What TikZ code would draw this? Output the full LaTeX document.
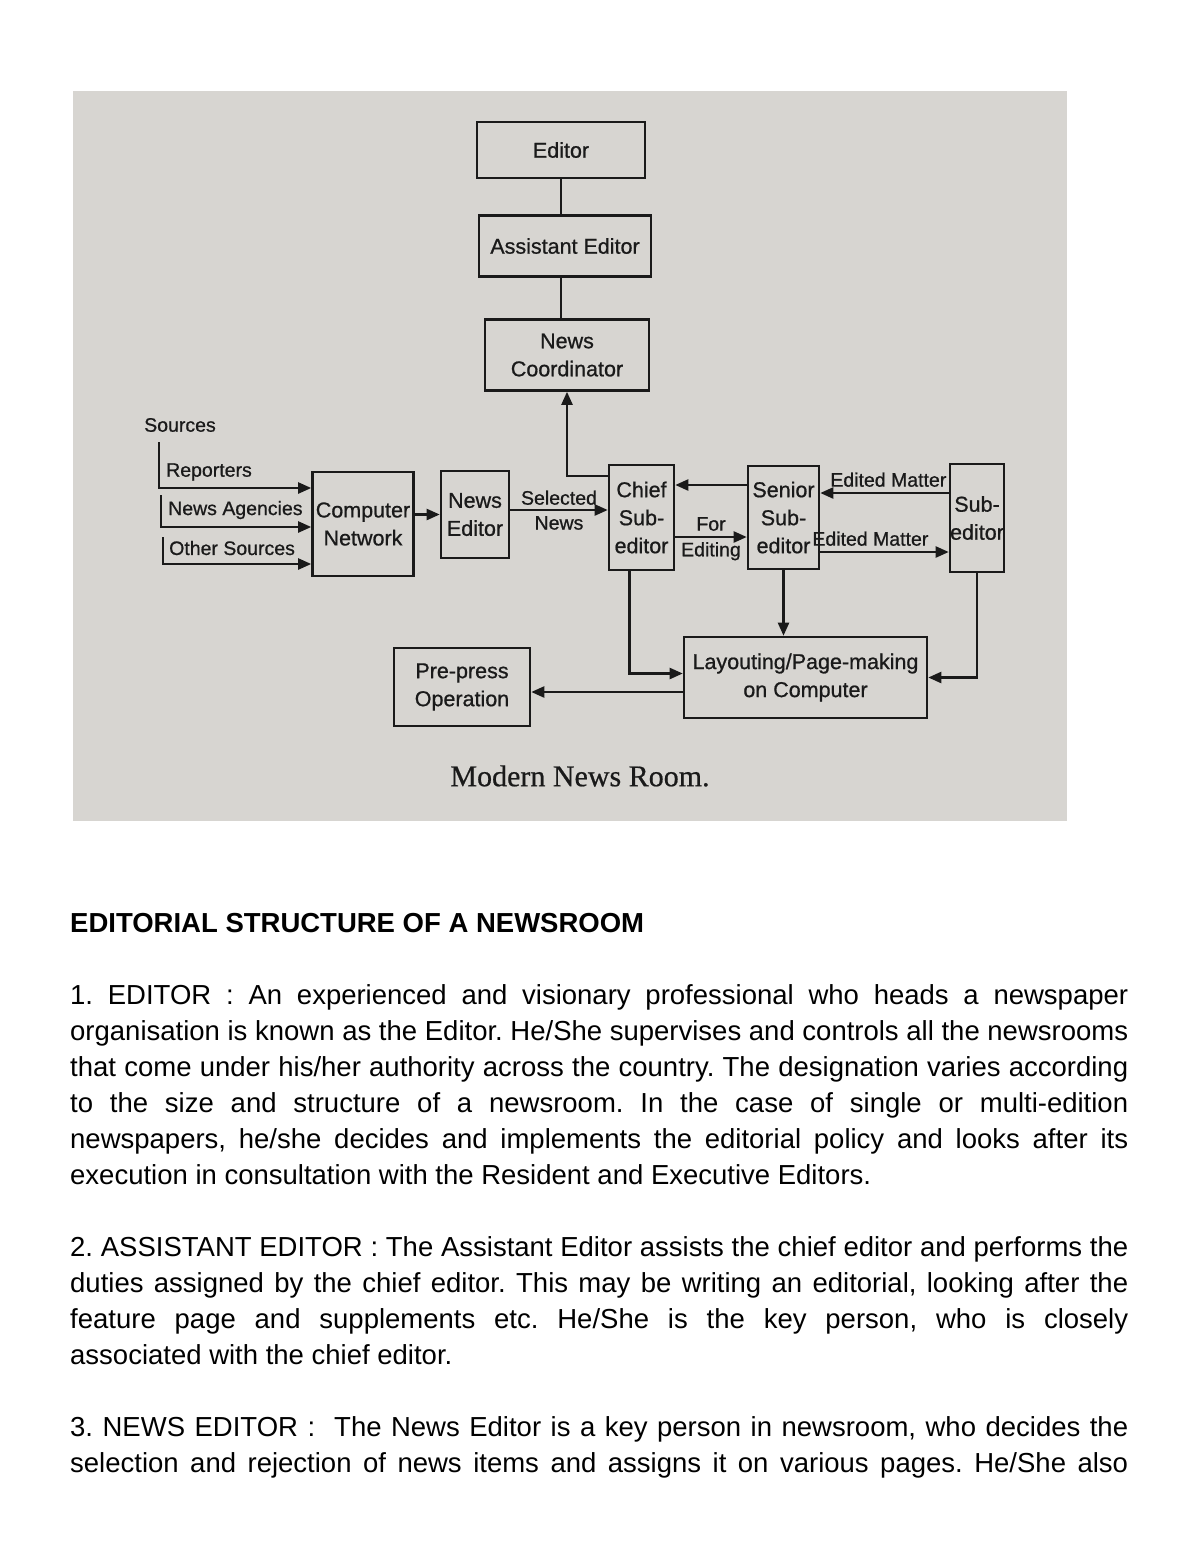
\documentclass[tikz,border=0pt]{standalone}
\usepackage{fontspec}
\setmainfont{Liberation Sans}
\newfontfamily\chartfont[FakeBold=0.8]{Liberation Sans}
\newfontfamily\captionfont[FakeBold=0.6]{Liberation Serif}
\usetikzlibrary{arrows.meta}
\frenchspacing

\definecolor{paper}{RGB}{215,213,209}
\definecolor{ink}{RGB}{26,26,26}

% one justified line of the page text
\newcommand{\jline}[1]{\makebox[1058pt][s]{#1}}

\begin{document}
\begin{tikzpicture}[x=1pt,y=-1pt,
  box/.style={draw=ink, line width=2.6pt, text=ink, align=center, inner sep=0pt,
              font=\chartfont\fontsize{21.5}{28}\selectfont},
  flow/.style={draw=ink, line width=2.3pt, -{Triangle[length=13pt,width=11pt]}},
  link/.style={draw=ink, line width=2.3pt},
  lbl/.style={text=ink, inner sep=0pt, font=\chartfont\fontsize{19.5}{26}\selectfont},
  body/.style={anchor=base west, inner sep=0pt, font=\fontsize{27.5}{36}\selectfont}]

  \useasboundingbox (0,0) rectangle (1200,1553);
  \fill[white] (0,0) rectangle (1200,1553);

% photo of the chart
  \fill[paper] (73,91) rectangle (1067,821);

% boxes
  \node[box, minimum width=168pt, minimum height=56pt]  (editor)      at (561,150)   {Editor};
  \node[box, minimum width=172pt, minimum height=61pt]  (assistant)   at (565,246)   {Assistant Editor};
  \node[box, minimum width=164pt, minimum height=71pt]  (coordinator) at (567,355)   {News\\Coordinator};
  \node[box, minimum width=101pt, minimum height=104pt] (network)     at (363,524)   {Computer\\Network};
  \node[box, minimum width=68pt,  minimum height=87pt]  (neditor)     at (475,514.5) {News\\Editor};
  \node[box, minimum width=65pt,  minimum height=105pt] (chief)       at (641.5,517.5) {Chief\\Sub-\\editor};
  \node[box, minimum width=71pt,  minimum height=103pt] (senior)      at (783.5,517.5) {Senior\\Sub-\\editor};
  \node[box, minimum width=54pt,  minimum height=108pt] (subed)       at (977,518)   {Sub-\\editor};
  \node[box, minimum width=243pt, minimum height=81pt]  (layout)      at (805.5,677.5) {Layouting/Page-making\\on Computer};
  \node[box, minimum width=136pt, minimum height=78pt]  (prepress)    at (462,687)   {Pre-press\\Operation};

% sources
  \node[lbl] (sources) at (180,425) {Sources};
  \coordinate (srcA) at (159,442);
  \coordinate (srcB) at (161,495);
  \coordinate (srcC) at (163,537);
  \draw[flow] (srcA) |- ([yshift=36pt]network.west);
  \draw[flow] (srcB) |- ([yshift=-3pt]network.west);
  \draw[flow] (srcC) |- ([yshift=-40pt]network.west);
  \node[lbl, anchor=west] (reporters) at (166,472) {Reporters};
  \node[lbl, anchor=west] (agencies)  at (168,510) {News Agencies};
  \node[lbl, anchor=west] (others)    at (169,548) {Other Sources};

% chain of command
  \draw[link] (editor.south) -- (editor.south |- assistant.north);
  \draw[link] (editor.south |- assistant.south) -- (editor.south |- coordinator.north);
  \draw[flow] ([yshift=-12pt]chief.north west) -| (coordinator.south);

% news flow
  \draw[flow] (network.east |- neditor.west) -- (neditor.west);
  \draw[flow] ([yshift=4.5pt]neditor.east) -- ([yshift=4.5pt]neditor.east -| chief.west)
    node[lbl, midway, above=4pt] (selected) {Selected}
    node[lbl, midway, below=5pt] (selnews) {News};
  \draw[flow] ([yshift=32.5pt]senior.west) -- ([yshift=32.5pt]senior.west -| chief.east);
  \draw[flow] ([yshift=-19.5pt]chief.east) -- ([yshift=-19.5pt]chief.east -| senior.west)
    node[lbl, midway, above=5pt] (for) {For}
    node[lbl, midway, below=4pt] (editing) {Editing};
  \draw[flow] ([yshift=25pt]subed.west) -- ([yshift=25pt]subed.west -| senior.east)
    node[lbl, pos=0.47, above=5pt] (editedtop) {Edited Matter};
  \draw[flow] ([yshift=-34.5pt]senior.east) -- ([yshift=-34.5pt]senior.east -| subed.west)
    node[lbl, pos=0.39, above=5pt] (editedbot) {Edited Matter};

% page making
  \draw[flow] (senior.south) -- (senior.south |- layout.north);
  \draw[flow] ([xshift=-12pt]chief.south) |- ([yshift=4pt]layout.west);
  \draw[flow] (subed.south) |- (layout.east);
  \draw[flow] ([yshift=-14.5pt]layout.west) -- ([yshift=-14.5pt]layout.west -| prepress.east);

  \node[text=ink, inner sep=0pt, font=\captionfont\fontsize{30}{36}\selectfont] (caption) at (580,776) {Modern News Room.};

% page text
  \node[body] (head) at (70,932) {\bfseries EDITORIAL STRUCTURE OF A NEWSROOM};

  \node[body] (edA) at (70,1004) {\jline{1. EDITOR : An experienced and visionary professional who heads a newspaper}};
  \node[body] (edB) at (70,1040) {\jline{organisation is known as the Editor. He/She supervises and controls all the newsrooms}};
  \node[body] (edC) at (70,1076) {\jline{that come under his/her authority across the country. The designation varies according}};
  \node[body] (edD) at (70,1112) {\jline{to the size and structure of a newsroom. In the case of single or multi-edition}};
  \node[body] (edE) at (70,1148) {\jline{newspapers, he/she decides and implements the editorial policy and looks after its}};
  \node[body] (edF) at (70,1184) {execution in consultation with the Resident and Executive Editors.};

  \node[body] (asA) at (70,1256) {\jline{2. ASSISTANT EDITOR : The Assistant Editor assists the chief editor and performs the}};
  \node[body] (asB) at (70,1292) {\jline{duties assigned by the chief editor. This may be writing an editorial, looking after the}};
  \node[body] (asC) at (70,1328) {\jline{feature page and supplements etc. He/She is the key person, who is closely}};
  \node[body] (asD) at (70,1364) {associated with the chief editor.};

  \node[body] (neA) at (70,1436) {\jline{3. NEWS EDITOR : \ The News Editor is a key person in newsroom, who decides the}};
  \node[body] (neB) at (70,1472) {\jline{selection and rejection of news items and assigns it on various pages. He/She also}};

\end{tikzpicture}
\end{document}
